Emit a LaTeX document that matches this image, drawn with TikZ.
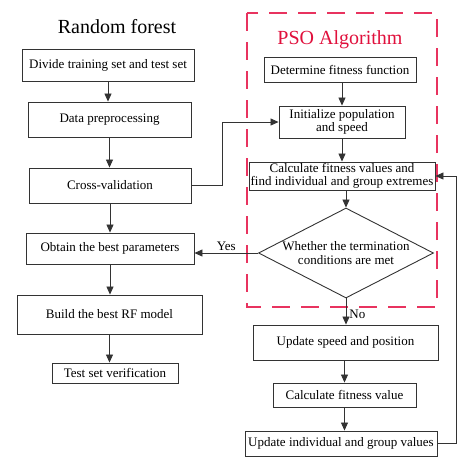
\documentclass[tikz,border=0pt]{standalone}
\usepackage{fontspec}
\setmainfont{Liberation Serif}
\usetikzlibrary{arrows.meta,shapes.geometric}
\definecolor{psored}{HTML}{E0103C}
\definecolor{dashred}{HTML}{E8335F}
\definecolor{linegray}{HTML}{333333}

\begin{document}
\begin{tikzpicture}[
  x=1pt, y=-1pt,
  every node/.style={font=\fontsize{13}{13.5}\selectfont, inner sep=0pt, align=center},
  box/.style={draw=linegray, line width=0.9pt},
  decision/.style={draw=linegray, line width=0.9pt, diamond},
  title/.style={font=\fontsize{20}{22}\selectfont},
  arr/.style={draw=linegray, line width=0.8pt, -{Triangle[length=8pt,width=7pt]}}
]
\useasboundingbox (0,0) rectangle (474,475);

\node[title] (rftitle) at (117,27) {Random forest};
\node[box, minimum width=172pt, minimum height=32pt] (divide) at (108,65) {Divide training set and test set};
\node[box, minimum width=163pt, minimum height=35pt] (preprocess) at (109.5,119.5) {Data preprocessing};
\node[box, minimum width=162pt, minimum height=35pt] (crossval) at (110,185.5) {Cross-validation};
\node[box, minimum width=168pt, minimum height=31pt] (bestparam) at (110,248.5) {Obtain the best parameters};
\node[box, minimum width=185pt, minimum height=39pt] (buildrf) at (109.5,314.5) {Build the best RF model};
\node[box, minimum width=126pt, minimum height=20pt] (testset) at (115,373) {Test set verification};

\draw[draw=dashred, line width=1.3pt, dash pattern=on 18pt off 11pt] (247,13) rectangle (437,307);
\node[title, text=psored] (psotitle) at (340,40) {PSO Algorithm};
\node[box, minimum width=152pt, minimum height=25pt] (fitfun) at (340,69.5) {Determine fitness function};
\node[box, minimum width=126pt, minimum height=32pt] (initpop) at (342,122) {Initialize population\\and speed};
\node[box, minimum width=186pt, minimum height=28pt] (calcext) at (342,176) {Calculate fitness values and\\find individual and group extremes};
\node[decision, minimum width=175pt, minimum height=90pt] (term) at (346,253) {};
\node (termtext) at (term) {Whether the termination\\conditions are met};
\node[box, minimum width=185pt, minimum height=35pt] (updsp) at (345.5,342.5) {Update speed and position};
\node[box, minimum width=143pt, minimum height=24pt] (calcfit) at (344.5,395) {Calculate fitness value};
\node[box, minimum width=192pt, minimum height=25pt] (updgrp) at (341,443.5) {Update individual and group values};

\draw[arr] (divide.south) -- (divide.south |- preprocess.north);
\draw[arr] (preprocess.south) -- (preprocess.south |- crossval.north);
\draw[arr] (crossval.south) -- (crossval.south |- bestparam.north);
\draw[arr] (bestparam.south) -- (bestparam.south |- buildrf.north);
\draw[arr] (buildrf.south) -- (buildrf.south |- testset.north);
\draw[arr] (crossval.east) -- ++(31,0) |- (initpop.west);

\draw[arr] (fitfun.south -| initpop.north) -- (initpop.north);
\draw[arr] (initpop.south) -- (calcext.north -| initpop.south);
\draw[arr] (calcext.south -| term.north) -- (term.north);
\draw[arr] (term.west) -- (term.west -| bestparam.east) node[midway, above=2pt] {Yes};
\draw[arr] (term.south) -- (term.south |- updsp.north) node[midway, right=3pt, yshift=-3pt] {No};
\draw[arr] (updsp.south -| calcfit.north) -- (calcfit.north);
\draw[arr] (calcfit.south) -- (calcfit.south |- updgrp.north);
\draw[arr] (updgrp.east) -- ++(19,0) |- (calcext.east);
\end{tikzpicture}
\end{document}
